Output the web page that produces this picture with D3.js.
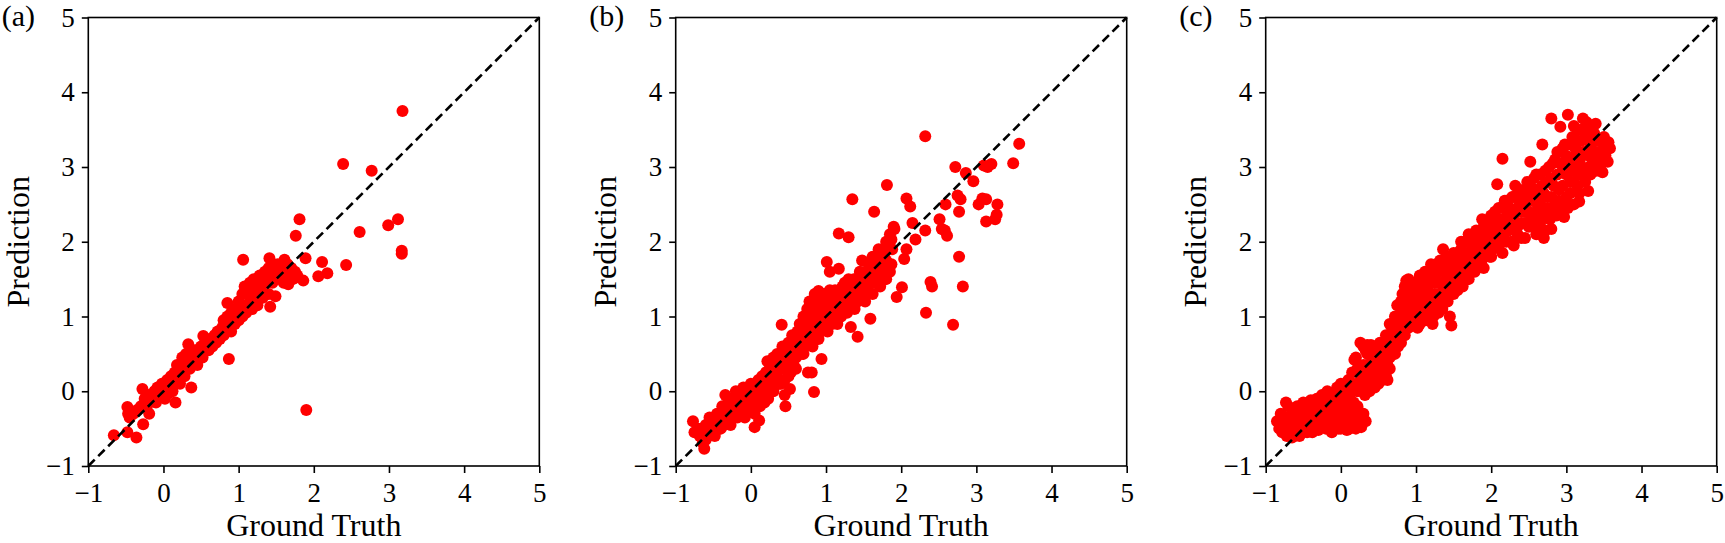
<!DOCTYPE html>
<html>
<head>
<meta charset="utf-8">
<title>Prediction vs Ground Truth</title>
<script src="https://d3js.org/d3.v7.min.js"></script>
<style>
    body { margin: 0; background: #ffffff; }
    text { font-family: "Liberation Serif", "Times New Roman", serif; fill: #000; }
</style>
</head>
<body>
<div id="chart"></div>

<script>

// panel letters and shared ticks
const panelNames = ["(a)", "(b)", "(c)"];
const tickValues = [-1, 0, 1, 2, 3, 4, 5];
const xTitle = "Ground Truth";
const yTitle = "Prediction";

// [ground truth, prediction] pairs
const pointsA = [
    [3.18,3.75],[2.39,3.04],[2.77,2.95],[3.12,2.30],[2.99,2.22],[3.17,1.88],[3.17,1.84],[2.61,2.13],[2.43,1.69],
    [2.11,1.73],[2.06,1.54],[2.18,1.58],[1.81,2.30],[1.76,2.08],[1.89,1.78],[1.90,-0.25],[1.06,1.76],[1.41,1.78],
    [1.61,1.76],[1.86,1.48],[1.66,1.43],[1.76,1.52],[1.49,1.27],[1.42,1.13],[0.87,0.43],[0.37,0.05],[0.16,-0.15],
    [-0.28,0.03],[-0.27,-0.44],[-0.48,-0.21],[-0.47,-0.30],[-0.66,-0.59],[-0.48,-0.55],[-0.36,-0.62],[-0.19,-0.30],
    [-0.11,-0.14],[0.85,1.18],
    [-0.45,-0.35],[-0.4,-0.3],[-0.35,-0.25],[-0.3,-0.2],[-0.25,-0.1],[-0.22,-0.2],[-0.2,-0.05],[-0.15,-0.1],
    [-0.12,0.0],[-0.1,-0.15],[-0.08,0.05],[-0.05,-0.05],[-0.02,0.1],[0.0,0.0],[0.02,-0.1],[0.05,0.15],[0.05,0.05],
    [0.08,-0.02],[0.1,0.2],[0.1,0.1],[0.12,0.0],[0.15,0.25],[0.15,0.1],[0.18,0.35],[0.2,0.2],[0.22,0.1],[0.25,0.3],
    [0.25,0.45],[0.28,0.2],[0.3,0.35],[0.3,0.5],[0.33,0.63],[0.35,0.3],[0.38,0.45],[0.4,0.4],[0.42,0.55],[0.45,0.35],
    [0.48,0.5],[0.5,0.6],[0.52,0.45],[0.53,0.74],[0.55,0.55],[0.58,0.65],[0.6,0.55],[0.62,0.7],[0.65,0.6],[0.68,0.75],
    [0.7,0.65],[0.72,0.8],[0.75,0.7],[0.78,0.85],[0.8,0.75],[0.8,0.95],[0.82,0.85],[0.85,0.8],[0.85,1.0],[0.88,0.9],
    [0.9,1.05],[0.9,0.8],[0.92,0.95],[0.95,1.1],[0.95,0.9],[0.98,1.0],[1.0,1.2],[1.0,0.95],[1.02,1.1],[1.05,1.3],
    [1.05,1.0],[1.08,1.4],[1.1,1.15],[1.1,1.05],[1.12,1.3],[1.15,1.45],[1.15,1.2],[1.18,1.1],[1.2,1.35],[1.2,1.5],
    [1.22,1.25],[1.25,1.45],[1.25,1.15],[1.28,1.55],[1.3,1.35],[1.32,1.25],[1.35,1.6],[1.35,1.45],[1.38,1.5],
    [1.4,1.3],[1.4,1.65],[1.42,1.55],[1.45,1.45],[1.48,1.6],[1.5,1.5],[1.52,1.7],[1.55,1.55],[1.58,1.65],[1.6,1.45],
    [1.62,1.6],[1.65,1.7],[1.68,1.55],[1.7,1.65],[1.72,1.5],[1.75,1.6],[1.78,1.55]
];

const pointsB = [
    [2.32,3.41],[3.57,3.31],[3.49,3.05],[3.1,3.02],[3.2,3.04],[3.15,3.0],[2.72,3.0],[2.86,2.92],[2.96,2.81],
    [1.81,2.76],[1.35,2.57],[1.64,2.40],[2.07,2.58],[2.12,2.47],[2.75,2.62],[2.79,2.57],[2.59,2.5],[2.77,2.40],
    [3.03,2.5],[3.08,2.58],[3.13,2.57],[3.28,2.5],[3.27,2.36],[3.13,2.27],[3.25,2.3],[2.51,2.3],[2.54,2.17],
    [2.61,2.08],[2.58,2.15],[2.15,2.25],[2.32,2.15],[2.19,2.03],[1.17,2.11],[1.30,2.06],[1.91,2.17],[1.87,2.03],
    [2.07,1.9],[2.04,1.77],[2.77,1.8],[2.39,1.46],[2.41,1.40],[2.82,1.40],[2.01,1.39],[1.94,1.26],[2.33,1.05],
    [2.69,0.89],[1.05,1.60],
    [-0.77,-0.4],[-0.75,-0.55],[-0.7,-0.5],[-0.68,-0.6],[-0.64,-0.69],[-0.62,-0.77],[-0.6,-0.45],[-0.58,-0.6],
    [-0.55,-0.5],[-0.55,-0.35],[-0.52,-0.55],[-0.5,-0.4],[-0.48,-0.6],[-0.45,-0.3],[-0.45,-0.45],[-0.42,-0.5],
    [-0.4,-0.35],[-0.38,-0.2],[-0.36,-0.45],[-0.34,-0.05],[-0.33,-0.3],[-0.3,-0.15],[-0.3,-0.4],[-0.28,-0.25],
    [-0.25,-0.1],[-0.25,-0.35],[-0.22,-0.2],[-0.2,0.0],[-0.2,-0.3],[-0.18,-0.15],[-0.15,-0.05],[-0.15,-0.25],
    [-0.12,-0.1],[-0.1,0.05],[-0.1,-0.3],[-0.08,-0.15],[-0.05,0.0],[-0.05,-0.2],[-0.02,-0.1],[0.0,0.1],[0.0,-0.05],
    [0.02,-0.25],[0.05,0.05],[0.05,-0.48],[0.08,-0.15],[0.1,0.15],[0.1,-0.05],[0.11,-0.39],[0.12,0.0],[0.15,0.2],
    [0.15,-0.1],[0.18,0.1],[0.2,0.25],[0.2,-0.05],[0.22,0.4],[0.22,0.15],[0.25,0.05],[0.25,0.3],[0.28,0.2],
    [0.3,0.45],[0.3,0.1],[0.32,0.3],[0.35,0.2],[0.35,0.5],[0.38,0.35],[0.4,0.1],[0.4,0.45],[0.41,0.89],[0.42,0.6],
    [0.45,0.3],[0.45,-0.05],[0.46,-0.2],[0.48,0.5],[0.5,0.65],[0.5,0.2],[0.52,0.03],[0.52,0.4],[0.55,0.55],
    [0.55,0.75],[0.58,0.45],[0.6,0.65],[0.6,0.3],[0.62,0.8],[0.62,0.5],[0.65,0.6],[0.65,0.9],[0.68,0.7],[0.7,1.0],
    [0.7,0.5],[0.72,0.8],[0.72,0.6],[0.75,0.9],[0.75,1.1],[0.76,0.25],[0.78,0.7],[0.78,1.2],[0.8,0.85],[0.8,1.0],
    [0.81,0.25],[0.82,0.6],[0.84,-0.01],[0.85,1.3],[0.85,0.75],[0.85,1.1],[0.88,0.9],[0.9,1.34],[0.9,0.7],
    [0.92,1.0],[0.92,1.2],[0.94,0.43],[0.95,0.85],[0.95,1.3],[0.98,1.1],[1.0,0.95],[1.0,1.25],[1.01,1.73],
    [1.02,0.8],[1.05,1.05],[1.05,1.35],[1.08,0.9],[1.1,1.15],[1.1,1.3],[1.12,1.0],[1.15,1.2],[1.15,0.9],
    [1.17,1.64],[1.18,1.1],[1.2,1.35],[1.2,1.0],[1.22,1.25],[1.25,1.15],[1.25,1.45],[1.28,1.05],[1.3,1.3],
    [1.3,1.5],[1.32,1.15],[1.33,0.86],[1.35,1.4],[1.35,1.25],[1.38,1.1],[1.4,1.5],[1.4,1.35],[1.42,0.73],
    [1.42,1.2],[1.45,1.45],[1.45,1.6],[1.48,1.75],[1.48,1.3],[1.5,1.5],[1.52,1.2],[1.55,1.6],[1.55,1.4],
    [1.58,1.7],[1.59,0.97],[1.6,1.5],[1.62,1.3],[1.62,1.8],[1.65,1.6],[1.65,1.45],[1.68,1.75],[1.7,1.55],
    [1.7,1.9],[1.72,1.4],[1.75,1.65],[1.78,1.85],[1.8,1.5],[1.8,2.0],[1.82,1.7],[1.85,1.6],[1.85,2.1],[1.88,1.9],
    [1.9,2.2],
    [0.6,0.55],[0.65,0.75],[0.68,0.5],[0.7,0.8],[0.72,0.95],[0.75,0.65],[0.77,1.0],[0.8,0.75],[0.8,1.15],
    [0.83,0.9],[0.85,1.2],[0.87,0.8],[0.88,1.05],[0.9,0.95],[0.9,1.25],[0.93,0.8],[0.95,1.15],[0.97,1.0],
    [0.98,1.3],[1.0,0.85],[1.0,1.1],[1.03,1.2],[1.05,0.95],[1.07,1.25],[1.1,1.05],[1.12,1.35],[1.13,0.95],
    [1.15,1.1],[1.17,1.3],[1.2,1.15],[1.22,1.4],[1.23,1.05],[1.25,1.25],[1.28,1.4],[1.3,1.2],[1.32,1.35],
    [1.35,1.15],[1.37,1.5],[1.4,1.25],[1.42,1.4],[1.45,1.3],[1.47,1.55],[1.5,1.4],[1.52,1.6],[1.55,1.3],
    [1.57,1.5],[1.6,1.65],[1.63,1.45],[1.66,1.7],[1.7,1.6],[1.73,1.8],[1.76,1.55],[1.8,1.75],[1.83,1.9],
    [1.87,1.7],
    [-0.65,-0.5],[-0.6,-0.65],[-0.52,-0.4],[-0.48,-0.5],[-0.42,-0.35],[-0.4,-0.5],[-0.35,-0.3],[-0.3,-0.3],
    [-0.27,-0.45],[-0.22,-0.1],[-0.18,-0.35],[-0.12,-0.2],[-0.08,-0.35],[-0.03,-0.25],[0.0,-0.15],[0.03,0.0],
    [0.05,-0.3],[0.08,0.1],[0.12,-0.2],[0.15,0.05],[0.18,-0.15],[0.2,0.15],[0.23,-0.1],[0.27,0.35],[0.3,0.0],
    [0.33,0.15],[0.35,0.35],[0.38,0.1],[0.4,0.3],[0.43,0.45],[0.45,0.15],[0.5,0.45],[0.53,0.25],[0.55,0.65],
    [0.57,0.35],[0.6,0.45]
];

const pointsC = [
    [-0.85,-0.4],[-0.82,-0.5],[-0.8,-0.3],[-0.78,-0.55],[-0.75,-0.42],[-0.73,-0.15],[-0.72,-0.6],[-0.7,-0.35],
    [-0.68,-0.5],[-0.65,-0.25],[-0.65,-0.62],[-0.62,-0.45],[-0.6,-0.3],[-0.6,-0.55],[-0.58,-0.2],[-0.55,-0.4],
    [-0.55,-0.6],[-0.52,-0.3],[-0.5,-0.5],[-0.5,-0.15],[-0.48,-0.38],[-0.45,-0.55],[-0.45,-0.25],[-0.42,-0.45],
    [-0.4,-0.12],[-0.4,-0.35],[-0.38,-0.55],[-0.35,-0.25],[-0.35,-0.45],[-0.32,-0.1],[-0.3,-0.35],[-0.3,-0.52],
    [-0.28,-0.2],[-0.25,-0.45],[-0.25,-0.05],[-0.22,-0.3],[-0.2,-0.15],[-0.2,-0.5],[-0.18,0.0],[-0.15,-0.38],
    [-0.15,-0.2],[-0.12,-0.55],[-0.1,-0.05],[-0.1,-0.3],[-0.08,-0.45],[-0.05,-0.15],[-0.05,0.05],[-0.02,-0.38],
    [0.0,-0.5],[0.0,-0.25],[0.0,0.1],[0.02,-0.05],[0.05,-0.4],[0.05,-0.2],[0.08,0.05],[0.08,-0.52],[0.1,-0.3],
    [0.1,0.15],[0.12,-0.1],[0.15,-0.45],[0.15,0.0],[0.15,0.25],[0.18,-0.3],[0.2,0.1],[0.2,-0.5],[0.22,-0.2],
    [0.22,0.3],[0.25,-0.38],[0.25,0.05],[0.28,0.2],[0.3,-0.3],[0.3,0.35],[0.32,-0.05],[0.33,-0.4],[0.35,0.15],
    [0.35,0.5],[0.38,0.3],[0.4,0.05],[0.4,0.55],[0.42,0.4],[0.45,0.2],[0.45,0.6],[0.48,0.35],[0.5,0.5],[0.5,0.1],
    [0.52,0.65],[0.55,0.3],[0.55,0.45],[0.58,0.6],[0.6,0.4],[0.6,0.75],[0.62,0.55],[0.65,0.9],[0.65,0.45],
    [0.68,0.7],[0.7,0.85],[0.7,0.55],[0.72,1.0],[0.75,0.7],[0.75,1.15],[0.78,0.85],[0.8,1.05],[0.8,0.65],
    [0.82,1.3],[0.85,0.95],[0.85,0.75],[0.87,1.48],[0.88,1.15],[0.9,0.85],[0.9,1.35],[0.92,1.05],[0.95,1.45],
    [0.95,0.9],[0.98,1.2],[1.0,1.0],[1.0,1.4],[1.02,0.85],[1.05,1.25],[1.05,1.55],[1.08,1.1],[1.1,0.95],
    [1.1,1.4],[1.12,1.6],[1.15,1.2],[1.15,1.05],[1.18,1.5],[1.2,1.3],[1.2,1.7],[1.22,0.9],[1.25,1.15],
    [1.25,1.45],[1.28,1.6],[1.3,1.3],[1.3,1.05],[1.32,1.75],[1.35,1.45],[1.36,1.9],[1.38,1.2],[1.4,1.6],
    [1.42,1.35],[1.45,1.0],[1.45,1.75],[1.47,0.88],[1.48,1.5],[1.5,1.3],[1.5,1.85],[1.52,1.65],[1.55,1.45],
    [1.58,1.75],[1.6,2.0],[1.6,1.55],[1.62,1.4],[1.65,1.85],[1.68,1.65],[1.7,2.1],[1.7,1.5],[1.72,1.8],
    [1.75,1.95],[1.78,1.6],[1.8,2.15],[1.8,1.8],[1.82,1.7],[1.85,2.0],[1.88,2.3],[1.9,1.85],[1.9,1.65],
    [1.92,2.15],[1.95,2.0],[1.98,1.8],[2.0,2.35],[2.0,2.1],[2.02,1.9],[2.05,2.25],[2.08,2.77],[2.08,1.95],
    [2.1,2.45],[2.12,2.1],[2.15,3.11],[2.15,1.85],[2.15,2.3],[2.18,2.55],[2.2,2.0],[2.22,2.4],[2.25,2.2],
    [2.28,2.6],[2.3,1.95],[2.3,2.35],[2.32,2.75],[2.35,2.1],[2.38,2.5],[2.4,2.25],[2.42,2.65],[2.45,2.05],
    [2.45,2.4],[2.48,2.8],[2.5,2.2],[2.52,3.07],[2.52,2.55],[2.55,2.35],[2.58,2.7],[2.6,2.1],[2.6,2.9],
    [2.62,2.5],[2.65,2.25],[2.68,3.3],[2.68,2.75],[2.7,2.05],[2.7,2.45],[2.72,2.95],[2.75,2.6],[2.78,2.3],
    [2.8,3.65],[2.8,2.17],[2.8,2.85],[2.82,3.05],[2.85,2.5],[2.88,3.2],[2.9,2.7],[2.92,3.54],[2.92,2.4],
    [2.95,2.95],[2.97,2.33],[2.98,3.3],[3.0,2.6],[3.02,3.7],[3.02,3.1],[3.05,2.8],[3.08,3.4],[3.1,2.5],
    [3.1,3.0],[3.12,3.25],[3.15,2.75],[3.15,3.5],[3.17,2.54],[3.18,3.1],[3.2,3.35],[3.22,3.65],[3.22,2.9],
    [3.25,3.2],[3.28,3.45],[3.29,2.68],[3.3,3.0],[3.32,3.3],[3.35,3.55],[3.38,3.15],[3.39,3.58],[3.4,2.95],
    [3.42,3.35],[3.45,3.2],[3.48,2.93],[3.5,3.4],[3.52,3.15],[3.55,3.07],[3.56,3.33],[3.58,3.25],
    [-0.75,-0.5],[-0.7,-0.2],[-0.68,-0.4],[-0.62,-0.6],[-0.58,-0.35],[-0.55,-0.25],[-0.5,-0.35],[-0.45,-0.4],
    [-0.42,-0.2],[-0.38,-0.4],[-0.35,-0.15],[-0.3,-0.45],[-0.28,-0.3],[-0.22,-0.4],[-0.2,-0.25],[-0.15,-0.1],
    [-0.12,-0.45],[-0.1,-0.2],[-0.05,-0.3],[-0.03,-0.5],[0.02,-0.15],[0.03,-0.35],[0.07,-0.45],[0.1,-0.2],
    [0.12,-0.5],[0.15,-0.35],[0.17,-0.15],[0.2,-0.4],[0.22,0.0],[0.25,-0.28],[0.27,-0.48],[0.3,-0.4],[0.28,0.05],
    [0.3,0.2],[0.35,0.35],[0.4,0.25],[0.42,0.15],[0.45,0.45],[0.48,0.25],[0.5,0.35],[0.52,0.5],[0.55,0.6],
    [0.57,0.2],[0.6,0.55],[0.62,0.35],[0.63,0.65],[0.66,0.6],[0.68,0.85],[0.7,0.7],[0.72,0.5],[0.73,0.9],
    [0.75,0.8],[0.76,0.6],[0.78,1.0],[0.8,0.9],[0.8,1.2],[0.82,0.75],[0.83,1.05],[0.85,1.4],[0.85,1.2],
    [0.87,0.9],[0.88,1.3],[0.9,1.0],[0.9,1.5],[0.92,0.9],[0.93,1.2],[0.95,1.05],[0.95,1.35],[0.97,0.95],
    [0.98,1.45],[1.0,1.15],[1.0,1.3],[1.02,1.0],[1.03,1.45],[1.05,0.9],[1.05,1.15],[1.07,1.35],[1.08,1.5],
    [1.1,1.05],[1.1,1.25],[1.12,1.45],[1.13,0.95],[1.15,1.35],[1.15,1.6],[1.17,1.1],[1.2,1.2],[1.2,1.45],
    [1.22,1.6],[1.23,1.0],[1.25,1.3],[1.27,1.7],[1.28,1.15],[1.3,1.45],[1.3,1.6],[1.33,1.25],[1.35,1.1],
    [1.35,1.7],[1.37,1.35],[1.4,1.5],[1.4,1.8],[1.42,1.2],[1.44,1.6],[1.46,1.4],[1.5,1.6],[1.5,1.7],[1.52,1.5],
    [1.55,1.85],[1.55,1.35],[1.57,1.6],[1.6,1.7],[1.6,1.9],[1.63,1.5],[1.65,1.75],[1.65,2.0],[1.68,1.85],
    [1.7,1.6],[1.72,2.0],[1.75,1.7],[1.75,1.85],[1.77,2.1],[1.8,1.95],[1.8,1.65],[1.83,2.1],[1.85,1.85],
    [1.87,1.75],[1.88,2.05],[1.9,2.2],[1.92,1.95],[1.95,2.15],[1.95,1.85],[1.97,2.3],[2.0,2.0],[2.0,1.8],
    [2.03,2.15],[2.05,2.4],[2.07,2.05],[2.1,2.3],[2.1,1.95],[2.12,2.2],[2.15,2.45],[2.17,2.05],[2.2,2.3],
    [2.2,2.55],[2.23,2.15],[2.25,2.45],[2.27,2.0],[2.3,2.25],[2.3,2.6],[2.33,2.4],[2.35,2.2],[2.37,2.7],
    [2.4,2.4],[2.4,2.05],[2.43,2.55],[2.45,2.25],[2.47,2.65],[2.5,2.4],[2.5,2.75],[2.53,2.3],[2.55,2.55],
    [2.57,2.85],[2.6,2.4],[2.6,2.65],[2.63,2.2],[2.65,2.55],[2.65,2.9],[2.68,2.35],[2.7,2.65],[2.72,2.15],
    [2.73,2.8],[2.75,2.45],[2.77,3.0],[2.8,2.6],[2.8,2.4],[2.83,2.75],[2.85,3.1],[2.87,2.35],[2.88,2.9],
    [2.9,2.55],[2.92,3.05],[2.95,2.75],[2.95,3.25],[2.97,2.5],[3.0,2.9],[3.0,3.15],[3.02,2.45],[3.05,3.3],
    [3.05,2.65],[3.07,3.0],[3.1,3.55],[3.1,2.8],[3.12,3.15],[3.15,2.9],[3.15,3.35],[3.17,2.65],[3.2,3.0],
    [3.2,3.5],[3.22,3.2],[3.25,2.8],[3.25,3.4],[3.27,3.6],[3.3,3.15],[3.32,2.9],[3.35,3.35],[3.35,3.05],
    [3.37,3.45],[3.4,3.2],[3.42,3.1],[3.45,3.35],[3.47,3.05],[3.5,3.25],[3.53,3.3],
    [0.18,0.42],[0.26,0.65],[0.3,0.6],[0.35,0.62],[0.4,0.62],[0.45,0.05],[0.5,0.25],[0.55,0.15],[0.6,0.2],
    [0.65,0.3],[0.62,0.15],[0.58,0.3],[0.2,0.45],[0.33,0.55],[0.38,0.0]
];

const allPanels = [pointsA, pointsB, pointsC];

// layout
const W = 1725, H = 543;
const panelLeft = [88.3, 675.7, 1265.7];
const panelW = 451;
const plotTop = 17.5, plotBottom = 466;

const svg = d3.select("#chart").append("svg")
    .attr("width", W)
    .attr("height", H);

const fmt = d => d < 0 ? "\u2212" + Math.abs(d) : String(d);

allPanels.forEach((pts, i) => {
    const left = panelLeft[i];

    const x = d3.scaleLinear().domain([-1, 5]).range([left, left + panelW]);
    const y = d3.scaleLinear().domain([-1, 5]).range([plotBottom, plotTop]);

    const g = svg.append("g");

    // points
    g.append("g")
        .selectAll("circle")
        .data(pts)
        .join("circle")
        .attr("cx", d => x(d[0]))
        .attr("cy", d => y(d[1]))
        .attr("r", 6)
        .attr("fill", "#ff0000");

    // y = x reference
    g.append("line")
        .attr("x1", x(-1)).attr("y1", y(-1))
        .attr("x2", x(5)).attr("y2", y(5))
        .attr("stroke", "#000")
        .attr("stroke-width", 2.6)
        .attr("stroke-dasharray", "9,5");

    // axes
    const xAxis = g.append("g")
        .attr("transform", `translate(0,${plotBottom})`)
        .call(d3.axisBottom(x).tickValues(tickValues).tickFormat(fmt).tickSize(7).tickPadding(10));
    const yAxis = g.append("g")
        .attr("transform", `translate(${left},0)`)
        .call(d3.axisLeft(y).tickValues(tickValues).tickFormat(fmt).tickSize(6.5).tickPadding(7));

    [xAxis, yAxis].forEach(a => {
        a.select(".domain").remove();
        a.selectAll(".tick line").attr("stroke", "#000").attr("stroke-width", 1.6);
        a.selectAll(".tick text")
            .attr("fill", "#000")
            .style("font-family", "Liberation Serif")
            .style("font-size", "27px");
    });

    // frame
    g.append("rect")
        .attr("x", left).attr("y", plotTop)
        .attr("width", panelW).attr("height", plotBottom - plotTop)
        .attr("fill", "none")
        .attr("stroke", "#000")
        .attr("stroke-width", 1.6);

    // titles
    g.append("text")
        .attr("x", left + panelW / 2)
        .attr("y", 536)
        .attr("text-anchor", "middle")
        .style("font-size", "32px")
        .text(xTitle);

    g.append("text")
        .attr("transform", `translate(${left - 59.5},${(plotTop + plotBottom) / 2}) rotate(-90)`)
        .attr("text-anchor", "middle")
        .style("font-size", "32px")
        .text(yTitle);

    g.append("text")
        .attr("x", left - 86.5)
        .attr("y", 26)
        .style("font-size", "30px")
        .text(panelNames[i]);
});

</script>
</body>
</html>
